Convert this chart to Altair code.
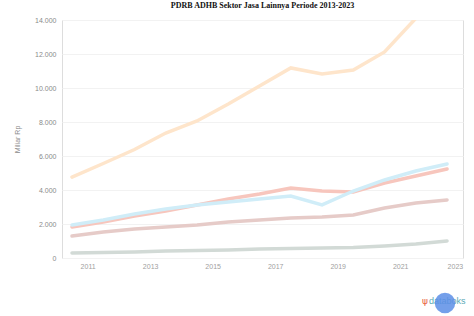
import altair as alt
import pandas as pd

years = list(range(2011, 2024))
series_names = ["Seri 1", "Seri 2", "Seri 3", "Seri 4", "Seri 5"]
s1 = [4760, 5560, 6380, 7350, 8060, 9060, 10120, 11180, 10820, 11060, 12120, 14100, 16000]
s2 = [1820, 2120, 2470, 2760, 3120, 3470, 3760, 4120, 3940, 3880, 4410, 4820, 5240]
s3 = [1940, 2240, 2590, 2880, 3120, 3290, 3470, 3650, 3120, 3940, 4590, 5120, 5530]
s4 = [1290, 1530, 1710, 1820, 1940, 2120, 2240, 2350, 2410, 2530, 2940, 3240, 3410]
s5 = [290, 320, 350, 410, 440, 470, 530, 560, 590, 620, 710, 820, 1000]
colors = ["#fee5cb", "#f7c6bd", "#d0edf8", "#e6cbc8", "#d2dad6"]
x_ticks = [2011.5, 2013.5, 2015.5, 2017.5, 2019.5, 2021.5, 2023.5]
y_ticks = [0, 2000, 4000, 6000, 8000, 10000, 12000, 14000]

rows = []
for name, vals in zip(series_names, [s1, s2, s3, s4, s5]):
    for y, v in zip(years, vals):
        rows.append({"year": y, "value": v, "series": name})
df = pd.DataFrame(rows)

lines = alt.Chart(df).mark_line(strokeWidth=3.5, clip=True, strokeCap="round").encode(
    x=alt.X("year:Q",
            scale=alt.Scale(domain=[2010.68, 2023.51], nice=False, zero=False),
            axis=alt.Axis(values=x_ticks, labelExpr="floor(datum.value)", title=None,
                          grid=False, domain=False, ticks=False, labelFontSize=7,
                          labelColor="#a0a0a0", labelPadding=4, labelFont="Liberation Sans")),
    y=alt.Y("value:Q",
            scale=alt.Scale(domain=[0, 14000], nice=False),
            axis=alt.Axis(values=y_ticks,
                          labelExpr="replace(format(datum.value, ',.0f'), ',', '.')",
                          title="Miliar Rp", titleFontSize=7, titleColor="#8a8a8a",
                          titleFont="Liberation Sans", titleFontWeight="normal",
                          domain=False, ticks=False, labelFontSize=7, labelColor="#8a8a8a",
                          labelFont="Liberation Sans", labelPadding=6,
                          gridColor="#f2f2f2", titlePadding=14)),
    color=alt.Color("series:N", scale=alt.Scale(domain=series_names, range=colors), legend=None),
)

logo_dot = alt.Chart(pd.DataFrame({"a": [0]})).mark_circle(
    size=420, color="#5c8ee6", opacity=0.85
).encode(x=alt.value(383), y=alt.value(283))

logo_text = alt.Chart(pd.DataFrame({"t": ["databoks"]})).mark_text(
    fontSize=9, font="Liberation Sans", color="#5aa9b5", align="left", baseline="middle"
).encode(x=alt.value(367), y=alt.value(281), text="t:N")

logo_icon = alt.Chart(pd.DataFrame({"t": ["ψ"]})).mark_text(
    fontSize=9, font="DejaVu Sans", color="#e8603c", align="left", baseline="middle"
).encode(x=alt.value(360), y=alt.value(281), text="t:N")

chart = alt.layer(lines, logo_icon, logo_text, logo_dot).properties(
    width=401, height=238,
    title=alt.TitleParams("PDRB ADHB Sektor Jasa Lainnya Periode 2013-2023",
                          font="Liberation Serif", fontSize=8, fontWeight="bold",
                          color="#111111", anchor="middle", offset=6),
    autosize=alt.AutoSizeParams(type="none"),
    padding={"left": 62, "top": 20, "right": 11, "bottom": 58},
).configure_view(stroke=None).configure(background="white")

chart.save("out.html", embed_options={"renderer": "svg", "actions": False})
